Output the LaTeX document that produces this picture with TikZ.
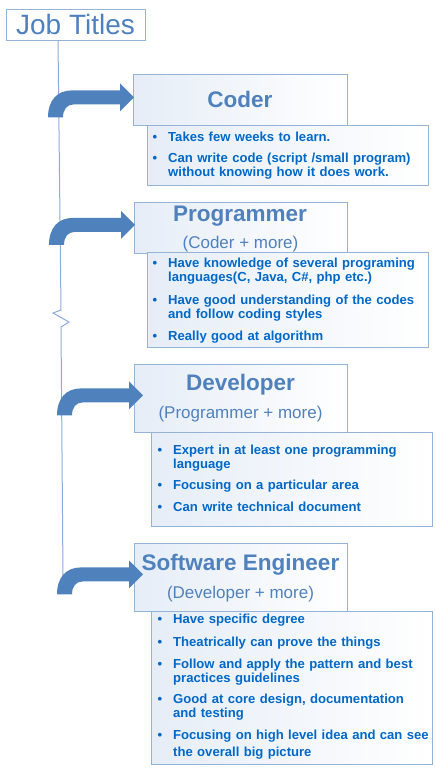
\documentclass[tikz,border=0pt]{standalone}
\usepackage{fontspec}
\setmainfont{Liberation Sans}
\usetikzlibrary{calc}
\definecolor{arrowblue}{HTML}{4F81BD}
\definecolor{titleblue}{HTML}{4F81BD}
\definecolor{itemblue}{HTML}{0068C8}
\definecolor{boxline}{HTML}{95B3D7}
\definecolor{boxfill}{HTML}{E6EDF7}
\definecolor{linecol}{HTML}{8EAADB}
\tikzset{
  panel/.style={draw=boxline, line width=0.8pt, left color=boxfill, right color=white, anchor=north west, inner sep=0pt},
  heading/.style={anchor=base, inner sep=0pt, text=titleblue, font=\bfseries\fontsize{22.5}{27}\selectfont},
  subheading/.style={anchor=base, inner sep=0pt, text=titleblue, font=\fontsize{17}{20}\selectfont},
  bullettext/.style={anchor=base west, inner sep=0pt, text width=300pt, align=left, text=itemblue, font=\bfseries\fontsize{13.1}{14}\selectfont},
  bendarrow/.pic={\fill[arrowblue] (-86,20) .. controls (-86,3) and (-77,-7) .. (-62,-7) -- (-14,-7) -- (-14,-14) -- (0,0) -- (-14,14) -- (-14,7) -- (-60,7) .. controls (-67,7) and (-71,12) .. (-71,20) -- cycle;},
}
\newcommand{\bul}{\llap{\textbullet\hspace{11pt}}}
\begin{document}
\begin{tikzpicture}[x=1pt,y=-1pt]
\useasboundingbox (0,0) rectangle (436,768);
% spine
\node[panel, minimum width=139pt, minimum height=31pt, left color=white, right color=white, anchor=center, text=titleblue, font=\fontsize{28}{32}\selectfont] (jt) at (75.5,24.5) {Job Titles};
\coordinate (ltop) at (58,40);
\coordinate (lbot) at (63,576);
\draw[linecol, line width=1pt] (ltop) -- (61,310) -- (53,313) -- (69,322) -- (61,327) -- (lbot);
% panels
\node[panel, minimum width=214pt, minimum height=51pt] (coder) at (133,74) {};
\node[panel, minimum width=281pt, minimum height=60pt] (coderlist) at (147,125) {};
\node[panel, minimum width=213pt, minimum height=51pt] (prog) at (134,202) {};
\node[panel, minimum width=281pt, minimum height=95pt] (proglist) at (147,252) {};
\node[panel, minimum width=213pt, minimum height=68pt] (dev) at (134,364) {};
\node[panel, minimum width=281pt, minimum height=94pt] (devlist) at (151,432) {};
\node[panel, minimum width=213pt, minimum height=68pt] (se) at (134,543) {};
\node[panel, minimum width=281pt, minimum height=153pt] (selist) at (151,611) {};
% arrows
\pic at ($(coder.west)+(1,-2.5)$) {bendarrow};
\pic at ($(prog.west)+(1,-3)$) {bendarrow};
\pic at ($(dev.west)+(9,-3)$) {bendarrow};
\pic at ($(se.west)+(9,-3)$) {bendarrow};
% headings
\node[heading] (codert) at (240,107) {Coder};
\node[heading] (progt) at (240,221) {Programmer};
\node[subheading] (progs) at (240.5,248) {(Coder + more)};
\node[heading] (devt) at (240.5,390.5) {Developer};
\node[subheading] (devs) at (240.5,418) {(Programmer + more)};
\node[heading] (set) at (240.5,570) {Software Engineer};
\node[subheading] (ses) at (240.5,598) {(Developer + more)};
% items
\node[bullettext] (c1) at (168,141.5) {\bul Takes few weeks to learn.};
\node[bullettext] (c2) at (168,162) {\bul Can write code (script /small program)\\without knowing how it does work.};
\node[bullettext] (p1) at (168,267) {\bul Have knowledge of several programing\\languages(C, Java, C\#, php etc.)};
\node[bullettext] (p2) at (168,304) {\bul Have good understanding of the codes\\and follow coding styles};
\node[bullettext] (p3) at (168,340) {\bul Really good at algorithm};
\node[bullettext] (d1) at (173,454) {\bul Expert in at least one programming\\language};
\node[bullettext] (d2) at (173,489) {\bul Focusing on a particular area};
\node[bullettext] (d3) at (173,511) {\bul Can write technical document};
\node[bullettext] (s1) at (173,623.5) {\bul Have specific degree};
\node[bullettext] (s2) at (173,646) {\bul Theatrically can prove the things};
\node[bullettext] (s3) at (173,668) {\bul Follow and apply the pattern and best\\practices guidelines};
\node[bullettext] (s4) at (173,703) {\bul Good at core design, documentation\\and testing};
\node[bullettext] (s5) at (173,739.5) {\bul Focusing on high level idea and can see\\[3pt]the overall big picture};
\end{tikzpicture}
\end{document}
